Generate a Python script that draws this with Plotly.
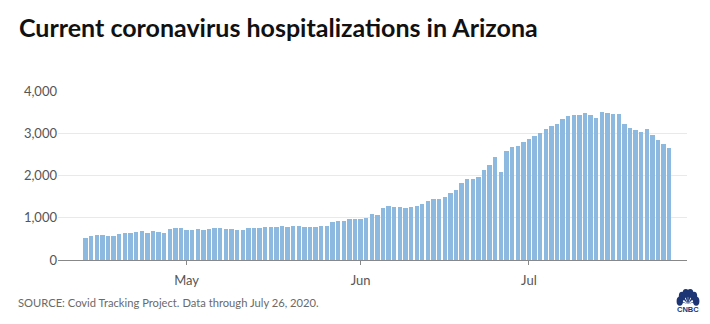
import pandas as pd
import plotly.graph_objects as go

start_date = "2020-04-13"
hospitalized = [
    520, 575, 590, 583, 567, 560, 622, 630, 630, 655,
    685, 630, 685, 670, 645, 730, 755, 755, 710, 715,
    725, 700, 725, 755, 760, 730, 730, 710, 710, 750,
    750, 765, 790, 790, 790, 810, 790, 810, 810, 790,
    780, 790, 815, 810, 900, 930, 920, 970, 970, 960,
    1000, 1080, 1070, 1220, 1275, 1250, 1250, 1235, 1260, 1275,
    1330, 1400, 1450, 1440, 1495, 1575, 1660, 1815, 1920, 1920,
    1965, 2120, 2255, 2435, 2085, 2570, 2675, 2705, 2785, 2860,
    2925, 3000, 3100, 3175, 3210, 3330, 3405, 3430, 3430, 3475,
    3430, 3360, 3510, 3480, 3450, 3460, 3225, 3130, 3080, 3035,
    3090, 2965, 2845, 2750, 2640,
]
dates = pd.date_range(start_date, periods=len(hospitalized), freq="D")

y_tick_vals = [0, 1000, 2000, 3000, 4000]
y_tick_text = ["0", "1,000", "2,000", "3,000", "4,000"]
x_tick_vals = ["2020-05-01", "2020-06-01", "2020-07-01"]
x_tick_text = ["May", "Jun", "Jul"]

title_text = "Current coronavirus hospitalizations in Arizona"
source_text = "SOURCE: Covid Tracking Project. Data through July 26, 2020."

W, H = 710, 324
ML, MR, MT, MB = 58, 23, 91, 64

fig = go.Figure()
fig.add_trace(go.Bar(
    x=dates, y=hospitalized,
    marker=dict(color="#8db8e0", line=dict(width=0)),
    width=0.78 * 86400000,
    hoverinfo="x+y",
))

def px(x):
    return (x - ML) / (W - ML - MR)

def py(y):
    return (H - MB - y) / (H - MT - MB)

# CNBC peacock logo (approximation)
navy = "#1d3575"
shapes = []
import math
cx, cy = 688, 304
for k in range(6):
    ang = math.radians(165 - k * 30)
    fx = cx + 8.5 * math.cos(ang)
    fy = cy - 10 * math.sin(ang) * 1.1
    r = 3.2
    shapes.append(dict(type="circle", xref="paper", yref="paper",
                       x0=px(fx - r), x1=px(fx + r), y0=py(fy + r * 1.4), y1=py(fy - r * 1.4),
                       fillcolor=navy, line=dict(width=0), layer="above"))
    shapes.append(dict(type="path", xref="paper", yref="paper",
                       path=f"M {px(cx)},{py(cy)} L {px(fx - 1.8)},{py(fy)} L {px(fx + 1.8)},{py(fy)} Z",
                       fillcolor=navy, line=dict(width=0), layer="above"))

fig.update_layout(
    width=W, height=H,
    margin=dict(l=ML, r=MR, t=MT, b=MB),
    paper_bgcolor="white", plot_bgcolor="white",
    showlegend=False,
    bargap=0,
    font=dict(family="Lato, sans-serif", color="#555555"),
    title=dict(text=f"<b>{title_text}</b>", xref="container", yref="container",
               x=19 / W, xanchor="left", y=1 - 28 / H, yanchor="middle",
               font=dict(family="Lato, sans-serif", size=25, color="#111111")),
    xaxis=dict(
        type="date",
        range=["2020-04-08 02:00", "2020-07-29 04:00"],
        tickvals=x_tick_vals, ticktext=x_tick_text,
        ticks="outside", ticklen=4, tickcolor="#888888", tickwidth=1,
        showline=True, linecolor="#888888", linewidth=1,
        showgrid=False, zeroline=False,
        tickfont=dict(size=13, color="#555555"),
        ticklabelstandoff=4,
    ),
    yaxis=dict(
        range=[0, 4000],
        tickvals=y_tick_vals, ticktext=y_tick_text,
        showgrid=True, gridcolor="#e9e9e9", gridwidth=1,
        zeroline=False, showline=False, ticks="",
        tickfont=dict(size=13, color="#555555"),
    ),
    shapes=shapes,
    annotations=[
        dict(text=source_text, xref="paper", yref="paper",
             x=px(16), y=py(302), xanchor="left", yanchor="middle",
             showarrow=False, font=dict(size=11.2, color="#6a6a6a")),
        dict(text="<b>CNBC</b>", xref="paper", yref="paper",
             x=px(688), y=py(309.5), xanchor="center", yanchor="middle",
             showarrow=False, font=dict(family="Arial", size=7.5, color=navy)),
    ],
)

fig.write_html("out.html")
